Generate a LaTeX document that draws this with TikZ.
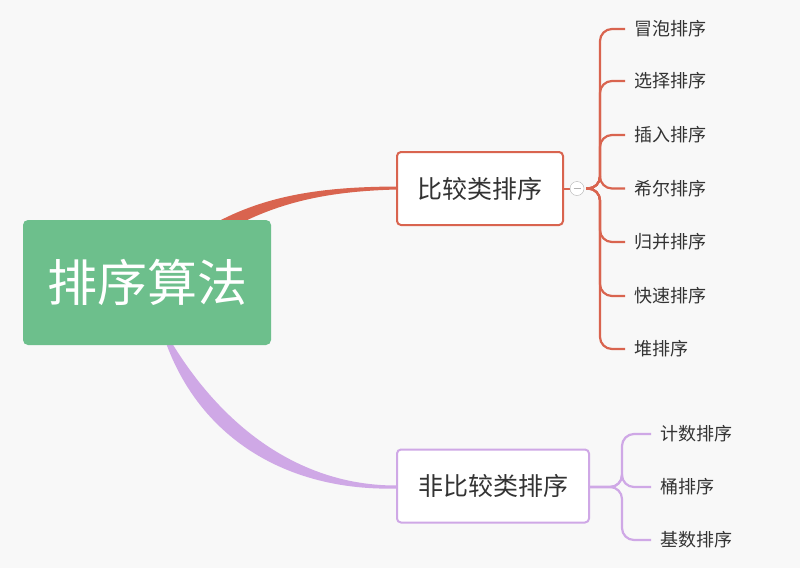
\documentclass[tikz,border=0pt]{standalone}
\usepackage{fontspec}
\setmainfont{Noto Sans CJK SC}
\definecolor{bg}{HTML}{F8F8F8}
\definecolor{rootg}{HTML}{6DBF8C}
\definecolor{redc}{HTML}{D9644F}
\definecolor{purc}{HTML}{CFA8E6}
\definecolor{txt}{HTML}{333333}
\begin{document}
\begin{tikzpicture}[x=1pt,y=-1pt,
  mid/.style={line width=2pt,fill=white,rounded corners=4pt,minimum height=73pt,font=\fontsize{25}{29}\selectfont,text=txt,inner sep=0pt},
  leaf/.style={anchor=west,font=\fontsize{18}{21}\selectfont,text=txt,inner sep=0pt},
  rl/.style={redc,line width=2.2pt,rounded corners=12pt},
  pl/.style={purc,line width=2.2pt,rounded corners=12pt}]
\fill[bg] (0,0) rectangle (800,568);
\useasboundingbox (0,0) rectangle (800,568);
\fill[redc] (147,276) .. controls (220,200) and (300,187) .. (397,186.5) -- (397,189.5) .. controls (300,192) and (230,212) .. (147,292) -- cycle;
\fill[purc] (140,280) .. controls (190,400) and (280,486) .. (397,485.5) -- (397,488.5) .. controls (270,492) and (170,420) .. (152,285) -- cycle;
\node[fill=rootg,rounded corners=5pt,minimum width=248pt,minimum height=125pt,inner sep=0pt,text=white,font=\fontsize{50}{56}\selectfont] (root) at (147,282.5) {排序算法};
\node[mid,draw=redc,minimum width=166pt] (cmp) at (480,188.5) {比较类排序};
\node[mid,draw=purc,minimum width=192pt] (ncmp) at (493,486) {非比较类排序};
\coordinate (h1) at (586,188.5);
\coordinate (h2) at (589,487);
\foreach \t/\y [count=\i] in {冒泡排序/29,选择排序/81,插入排序/135,希尔排序/188.5,归并排序/242,快速排序/296,堆排序/349}{
  \node[leaf] (r\i) at (634,\y) {\t};
  \draw[rl] (h1) -- (600,188.5) -- (600,\y) -- ([xshift=-9pt]r\i.west);
}
\foreach \t/\y [count=\i] in {计数排序/434,桶排序/487,基数排序/540}{
  \node[leaf] (p\i) at (660,\y) {\t};
  \draw[pl] (h2) -- (622,487) -- (622,\y) -- ([xshift=-9pt]p\i.west);
}
\draw[redc,line width=2pt] (cmp.east) -- (570,188.5);
\node[circle,draw=gray!60,fill=white,minimum size=14pt,inner sep=0pt] (col) at (577,188.5) {};
\draw[gray!60,line width=0.8pt] (573.5,188.5) -- (580.5,188.5);
\end{tikzpicture}
\end{document}
